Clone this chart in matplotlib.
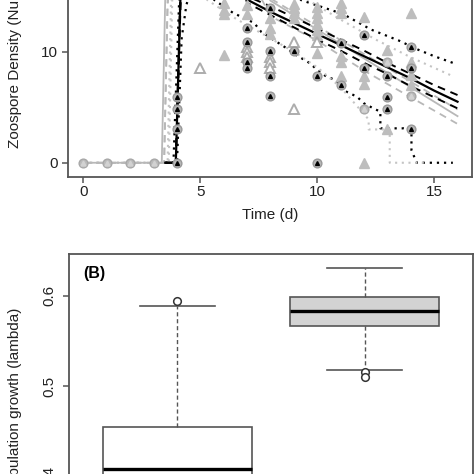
import matplotlib
matplotlib.use("Agg")
import matplotlib.pyplot as plt

plt.rcParams['font.family'] = ['Liberation Sans', 'DejaVu Sans']

# ---- panel A: observed zoospore densities ----
circ_x = [4, 4, 4, 4, 7, 7, 7, 7, 8, 8, 8, 8, 9, 10, 10, 11, 11, 12, 12, 13, 13, 13, 14, 14, 14]
circ_y = [0, 3.0, 4.8, 5.9, 12.1, 10.9, 9.1, 8.5, 13.9, 10.1, 7.8, 6.0, 10.1, 7.8, 0, 10.75, 7.0,
          11.5, 8.5, 7.8, 5.95, 4.8, 10.45, 8.5, 3.0]
grey_circ_x = [0, 1, 2, 3, 12, 13, 14]
grey_circ_y = [0, 0, 0, 0, 4.8, 9.1, 6.0]
tri_x = [6, 6, 6, 6, 7, 7, 8, 8, 8, 9, 9, 9, 9, 10, 10, 10, 10, 10, 10, 10,
         11, 11, 11, 11, 11, 11, 12, 12, 12, 12, 13, 13, 14, 14, 14, 14]
tri_y = [14.4, 13.8, 13.4, 9.7, 14.2, 13.4, 13.0, 12.1, 11.6, 14.3, 13.9, 13.5, 13.0,
         14.0, 13.5, 13.0, 12.5, 12.0, 11.5, 9.9,
         14.4, 13.9, 13.5, 9.6, 9.1, 7.8, 13.15, 7.8, 7.1, 0, 10.2, 3.0, 13.5, 9.1, 7.9, 7.0]
open_x = [5, 7, 7, 7, 8, 8, 8, 9, 9, 10]
open_y = [8.5, 10.45, 10.0, 9.55, 9.55, 9.1, 8.5, 10.9, 4.8, 10.9]

# model fits (black = first group, grey = second group)
blk_t = [3.5, 3.95, 4.15, 4.5, 5.2, 7.0, 8.0, 9.0, 10.0, 11.0, 12.0, 13.0, 14.0, 15.0, 16.0]
blk_fit = [0, 0, 15.0, 26.0, 29.0, 14.7, 13.6, 12.6, 11.6, 10.6, 9.6, 8.6, 7.6, 6.5, 5.5]
blk_ci_hi = [0, 0, 14.0, 27.0, 31.0, 15.0, 14.1, 13.1, 12.1, 11.1, 10.1, 9.0, 8.0, 7.0, 6.1]
blk_ci_lo = [0, 0, 16.0, 25.0, 27.0, 14.4, 13.3, 12.2, 11.1, 10.1, 9.0, 8.0, 6.9, 5.9, 4.9]
blk_pi_hi_t = [3.5, 3.85, 4.1, 4.4, 5.0, 9.3, 11.1, 12.3, 13.5, 14.3, 15.0, 15.8]
blk_pi_hi = [0, 0, 15.0, 30.0, 36.0, 14.66, 13.4, 12.0, 11.0, 10.2, 9.6, 9.0]
blk_pi_lo_t = [3.5, 4.0, 4.2, 4.4, 4.8, 5.6, 6.4, 7.3, 7.6, 8.7, 9.1, 9.7, 10.0, 10.4, 10.8,
               11.1, 11.7, 12.0, 12.4, 12.7, 12.7, 13.7, 14.03, 14.03, 14.25, 15.8]
blk_pi_lo = [0, 0, 11.2, 14.2, 17.0, 14.66, 13.5, 12.6, 11.8, 10.3, 9.7, 8.95, 8.35, 7.75, 7.45,
             6.55, 5.95, 5.35, 4.9, 4.6, 3.1, 3.1, 2.95, 1.15, 0, 0]

gry_t = [0, 3.35, 3.5, 3.8, 4.5, 8.0, 10.0, 12.0, 14.0, 16.0]
gry_fit = [0, 0, 15.0, 25.0, 28.0, 14.6, 12.0, 9.4, 6.8, 4.2]
gry_ci_t = [0, 3.45, 3.6, 3.9, 4.6, 8.0, 10.0, 12.0, 14.0, 16.0]
gry_ci_hi = [0, 0, 15.0, 26.0, 30.0, 14.8, 12.3, 9.8, 7.3, 4.8]
gry_ci_lo = [0, 0, 14.0, 24.0, 27.0, 13.2, 11.0, 8.3, 5.9, 3.5]
gry_pi_hi_t = [0, 3.6, 3.75, 4.0, 4.8, 9.6, 11.0, 12.5, 14.0, 15.8]
gry_pi_hi = [0, 0, 15.0, 30.0, 36.0, 14.66, 12.9, 11.1, 9.5, 7.8]
gry_pi_lo_t = [0, 3.65, 3.8, 4.2, 5.3, 6.5, 8.0, 9.0, 10.0, 11.0, 12.2, 12.2, 13.1, 13.1, 14.7]
gry_pi_lo = [0, 0, 15.0, 18.0, 14.66, 13.0, 11.2, 10.0, 8.6, 6.8, 3.9, 3.0, 3.0, 0, 0]

# ---- panel B: population growth (lambda) ----
box_pos = [1, 2]
box_med = [0.4084, 0.583]
box_q1 = [0.365, 0.5664]
box_q3 = [0.4543, 0.5989]
whisk_lo = [0.28, 0.5174]
whisk_hi = [0.5886, 0.631]
box_out = [[0.594], [0.5155, 0.510]]
box_fill = ['white', '#d3d3d3']

spine_col = '#555555'
fig = plt.figure(figsize=(4.74, 4.74), dpi=100)

# top panel (its upper part lies outside the crop)
ax1 = fig.add_axes([0.1445, 0.6276, 0.8523, 0.784])
dot = (0, (1, 2.2))
ax1.plot(blk_pi_hi_t, blk_pi_hi, color='black', lw=1.6, ls=dot, zorder=2)
ax1.plot(blk_pi_lo_t, blk_pi_lo, color='black', lw=1.6, ls=dot, zorder=2)
ax1.plot(gry_pi_hi_t, gry_pi_hi, color='#c4c4c4', lw=1.5, ls=dot, zorder=2)
ax1.plot(gry_pi_lo_t, gry_pi_lo, color='#c4c4c4', lw=1.5, ls=dot, zorder=2)
ax1.plot(gry_ci_t, gry_ci_hi, color='#b8b8b8', lw=1.3, ls=(0, (4, 3)), zorder=2)
ax1.plot(gry_ci_t, gry_ci_lo, color='#b8b8b8', lw=1.3, ls=(0, (4, 3)), zorder=2)
ax1.plot(gry_t, gry_fit, color='#b8b8b8', lw=1.3, zorder=2)
ax1.plot(blk_t, blk_ci_hi, color='black', lw=1.4, ls=(0, (4, 3)), zorder=3)
ax1.plot(blk_t, blk_ci_lo, color='black', lw=1.4, ls=(0, (4, 3)), zorder=3)
ax1.plot(blk_t, blk_fit, color='black', lw=1.6, zorder=3)

ax1.plot(tri_x, tri_y, ls='none', marker='^', ms=6.5, mfc='#bdbdbd', mec='#bdbdbd', zorder=4)
ax1.plot(open_x, open_y, ls='none', marker='^', ms=7, mfc='white', mec='#adadad', mew=1.4, zorder=4)
ax1.plot(grey_circ_x, grey_circ_y, ls='none', marker='o', ms=6.3, mfc='#bababa', mec='#a8a8a8', zorder=4)
ax1.plot(grey_circ_x, grey_circ_y, ls='none', marker='^', ms=3.5, mfc='#d2d2d2', mec='#d2d2d2', zorder=5)
ax1.plot(circ_x, circ_y, ls='none', marker='o', ms=6.3, mfc='#b8b8b8', mec='#999999', zorder=4)
ax1.plot(circ_x, circ_y, ls='none', marker='^', ms=2.8, mfc='black', mec='black', zorder=5)

ax1.set_xlim(-0.64, 16.64)
ax1.set_ylim(-1.24, 32.24)
ax1.set_xticks([0, 5, 10, 15])
ax1.set_yticks([0, 10])
ax1.tick_params(length=4.3, width=1.1, color=spine_col, labelsize=11, labelcolor='#222222')
ax1.tick_params(axis='y', pad=3.5)
ax1.tick_params(axis='x', pad=1.5)
ax1.set_xlabel('Time (d)', fontsize=11, color='#222222', labelpad=7)
for s in ax1.spines.values():
    s.set_color(spine_col)
    s.set_linewidth(1.3)
fig.text(0.0316, 0.6878, 'Zoospore Density (Number)', rotation=90, ha='center', va='bottom',
         fontsize=11, color='#222222')

# bottom panel
ax2 = fig.add_axes([0.1456, -0.1954, 0.8523, 0.6595])
stats = []
for i in range(len(box_pos)):
    stats.append(dict(med=box_med[i], q1=box_q1[i], q3=box_q3[i],
                      whislo=whisk_lo[i], whishi=whisk_hi[i], fliers=box_out[i]))
bp = ax2.bxp(stats, positions=box_pos, widths=0.8, patch_artist=True,
             boxprops=dict(edgecolor=spine_col, linewidth=1.2),
             medianprops=dict(color='black', linewidth=2.4),
             whiskerprops=dict(color=spine_col, linewidth=1.0, linestyle=(0, (3, 2))),
             capprops=dict(color=spine_col, linewidth=1.2),
             capwidths=0.4,
             flierprops=dict(marker='o', ms=5.5, mfc='white', mec='#333333', mew=1.1))
for patch, c in zip(bp['boxes'], box_fill):
    patch.set_facecolor(c)
ax2.set_xlim(0.42, 2.58)
ax2.set_ylim(0.3, 0.6462)
ax2.set_yticks([0.4, 0.5, 0.6])
ax2.set_xticks([])
ax2.tick_params(axis='y', length=4.3, width=1.1, color=spine_col, labelsize=11,
                labelcolor='#222222', pad=5, labelrotation=90)
for lab in ax2.get_yticklabels():
    lab.set_va('center')
for s in ax2.spines.values():
    s.set_color(spine_col)
    s.set_linewidth(1.3)
ax2.text(0.035, 0.939, '(B)', transform=ax2.transAxes, fontsize=11.5, fontweight='bold',
         ha='left', va='center')
fig.text(0.0316, 0.3502, 'Population growth (lambda)', rotation=90, ha='center', va='top',
         fontsize=11, color='#222222')

fig.savefig('out.png', dpi=100)
